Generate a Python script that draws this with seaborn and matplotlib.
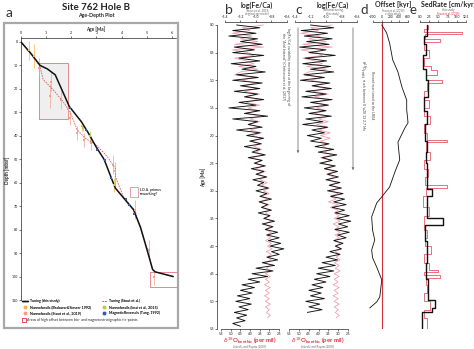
import numpy as np
import pandas as pd
import matplotlib
matplotlib.use("Agg")
import matplotlib.pyplot as plt
import seaborn as sns
from matplotlib.patches import Rectangle, FancyArrowPatch
from matplotlib.lines import Line2D

# ---------------- data ----------------
# Panel a: age-depth model
TUNE_AGE = [0.0, 0.40, 0.76, 1.05, 1.36, 1.92, 2.40, 2.67, 3.00, 3.30, 3.70, 3.75, 4.47, 4.75, 5.03, 5.23, 5.33, 6.05]
TUNE_DEPTH = [0.0, 5.0, 10.0, 11.5, 14.0, 27.5, 34.0, 38.7, 45.0, 50.0, 61.0, 62.3, 71.5, 79.0, 89.4, 97.0, 98.0, 100.0]
STOUT_AGE = [0.0, 0.40, 0.76, 0.88, 1.28, 1.68, 1.96, 2.23, 2.55, 3.00, 3.44, 3.75, 3.75, 4.07, 4.55, 4.63, 5.03, 5.23, 5.33, 6.05]
STOUT_DEPTH = [0.0, 5.0, 10.6, 16.0, 20.4, 25.5, 30.0, 37.4, 41.0, 44.0, 49.0, 54.0, 57.4, 66.0, 72.3, 76.0, 88.5, 97.0, 98.0, 100.0]

BRAL_AGE = [0.30, 0.50, 2.43, 3.70]
BRAL_DEPTH = [3.5, 6.0, 36.0, 61.0]
BRAL_ERR = [4.0, 5.0, 2.0, 3.0]
IMAI_AGE = [2.45, 2.75, 3.72]
IMAI_DEPTH = [36.5, 40.0, 60.5]
IMAI_ERR = [1.5, 2.0, 2.0]
NSTOUT_AGE = [0.73, 1.20, 1.15, 1.60, 1.88, 1.96, 2.23, 2.50, 2.80, 3.65, 3.75, 4.55, 5.07, 5.27]
NSTOUT_DEPTH = [11.0, 17.0, 23.0, 24.7, 28.5, 32.5, 38.7, 41.7, 43.0, 52.3, 55.0, 71.5, 88.5, 100.4]
NSTOUT_ERR = [4, 4, 5, 4, 4, 3, 3, 3, 3, 4, 4, 4, 4, 3]
MAG_AGE = [1.95, 2.58, 3.04, 3.33, 3.58, 4.18, 4.29, 4.49]
MAG_DEPTH = [28.0, 37.5, 46.0, 50.5, 58.0, 67.0, 69.5, 73.5]

AGE_TICKS = [0, 1, 2, 3, 4, 5, 6]
DEPTH_TICKS = [0, 10, 20, 30, 40, 50, 60, 70, 80, 90, 100, 110]

# Panels b, c: log(Fe/Ca) and LR04 d18O, sampled every 0.05 Ma
STEP = 0.05
FECA_B = [-1.25, -0.95, -1.30, -1.00, -1.35, -0.98, -1.20, -0.92, -1.28, -1.02,
          -1.30, -0.90, -1.22, -0.95, -1.32, -1.00, -1.18, -0.88, -1.25, -0.97,
          -1.30, -0.92, -1.20, -0.95, -1.28, -0.98, -1.15, -0.90, -1.22, -1.00,
          -1.35, -0.95, -1.15, -0.85, -1.30, -0.98, -1.10, -0.92, -1.25, -0.95,
          -1.12, -0.90, -1.08, -0.93, -1.15, -0.95, -1.05, -0.88, -1.10, -0.92,
          -1.02, -0.88, -1.06, -0.90, -1.00, -0.86, -1.04, -0.90, -0.98, -0.84,
          -1.00, -0.86, -0.95, -0.80, -0.96, -0.85, -0.93, -0.80, -0.97, -0.82,
          -0.90, -0.76, -0.92, -0.78, -0.88, -0.72, -0.86, -0.70, -0.84, -0.68,
          -0.82, -0.64, -0.80, -0.70, -0.86, -0.72, -0.92, -0.76, -1.00, -0.78,
          -1.05, -0.85, -1.10, -0.95, -1.18, -1.02, -1.20, -1.05, -1.24, -1.08,
          -1.26, -1.06, -1.22, -1.10, -1.28, -1.12, -1.25, -1.14, -1.30, -1.20]
FECA_C = [-1.20, -0.90, -1.32, -0.98, -1.28, -0.92, -1.25, -0.96, -1.34, -1.00,
          -1.22, -0.88, -1.27, -0.99, -1.30, -0.94, -1.20, -0.90, -1.28, -1.02,
          -1.33, -0.95, -1.18, -0.93, -1.26, -1.00, -1.31, -0.92, -1.20, -0.97,
          -1.28, -1.00, -1.22, -0.93, -1.26, -1.04, -1.30, -0.98, -1.18, -1.02,
          -1.24, -1.06, -1.20, -0.96, -1.14, -0.90, -1.10, -0.86, -1.05, -0.92,
          -1.08, -0.88, -1.02, -0.85, -0.98, -0.84, -1.00, -0.82, -0.96, -0.80,
          -0.98, -0.78, -0.94, -0.76, -0.90, -0.74, -0.92, -0.76, -0.88, -0.70,
          -0.86, -0.68, -0.84, -0.72, -0.88, -0.70, -0.85, -0.74, -0.90, -0.78,
          -0.88, -0.80, -0.95, -0.82, -1.00, -0.85, -1.05, -0.88, -1.10, -0.90,
          -1.12, -0.95, -1.15, -1.00, -1.18, -1.04, -1.22, -1.06, -1.20, -1.02,
          -1.26, -1.08, -1.22, -1.05, -1.24]
D18O = [3.3, 4.4, 4.0, 4.9, 3.9, 4.5, 3.6, 4.8, 3.3, 4.9,
        4.1, 3.8, 4.8, 4.2, 3.8, 4.6, 3.6, 4.5, 4.8, 3.8,
        4.4, 3.7, 4.3, 3.6, 4.3, 3.5, 4.2, 3.6, 4.2, 3.5,
        4.1, 3.6, 4.2, 3.5, 4.0, 3.5, 4.1, 3.5, 4.0, 3.4,
        3.9, 3.4, 3.9, 3.5, 3.8, 3.4, 3.7, 3.3, 3.9, 3.4,
        3.8, 3.3, 3.7, 3.2, 3.6, 3.2, 3.5, 3.1, 3.4, 3.0,
        3.3, 3.0, 3.4, 3.1, 3.5, 3.0, 3.4, 3.0, 3.2, 2.95,
        3.2, 2.9, 3.25, 2.95, 3.2, 2.9, 3.15, 2.95, 3.2, 2.9,
        3.1, 2.85, 3.15, 2.9, 3.1, 2.9, 3.2, 2.95, 3.15, 2.9,
        3.2, 2.95, 3.2, 3.0, 3.25, 2.95, 3.2, 3.0, 3.25, 3.0,
        3.2, 2.95, 3.2, 3.0, 3.15, 2.95, 3.1]
FECA_TICKS = [-1.4, -1.2, -1.0, -0.8, -0.6]
D18O_TICKS = [5.5, 5.0, 4.5, 4.0, 3.5, 3.0, 2.5]
AGE_B_TICKS = [0.0, 0.5, 1.0, 1.5, 2.0, 2.5, 3.0, 3.5, 4.0, 4.5, 5.0, 5.5]

# Panel d: offset Stout et al. (2019) vs this study
OFFSET_AGE = [0.0, 0.14, 0.33, 0.63, 0.85, 1.12, 1.36, 1.54, 1.68, 1.77, 1.86, 2.12, 2.44, 2.66,
              2.93, 3.11, 3.22, 3.47, 3.71, 3.89, 4.07, 4.21, 4.38, 4.61, 4.92, 5.01, 5.12]
OFFSET = [0, 110, 180, 250, 370, 460, 570, 570, 590, 600, 530, 370, 410, 300,
          180, 0, -115, -230, -210, -160, -230, -210, -115, 0, -45, -115, -275]
OFFSET_TICKS = [-200, 0, 200, 400, 600]

# Panel e: sedimentation rates (step profiles)
SR_EDGES = [0, 0.2, 0.35, 0.55, 0.8, 1.0, 1.3, 1.55, 1.8, 2.1, 2.3, 2.5, 2.97, 3.1, 3.5, 3.62,
            3.9, 4.3, 4.6, 4.98, 5.12, 5.2, 5.5]
SR_THIS = [1.9, 1.2, 1.6, 0.8, 1.5, 2.1, 1.0, 1.8, 1.3, 2.0, 1.6, 1.9, 3.3, 1.8, 6.2, 1.4,
           2.0, 1.5, 2.2, 4.1, 3.3, 0.5]
SRS_EDGES = [0, 0.08, 0.12, 0.16, 0.25, 0.3, 0.45, 0.6, 0.75, 0.82, 0.9, 1.0, 1.05, 1.2, 1.35,
             1.5, 1.65, 1.8, 1.95, 2.08, 2.12, 2.3, 2.45, 2.6, 2.75, 2.9, 2.95, 3.1, 3.3, 3.45,
             3.7, 3.85, 4.0, 4.15, 4.3, 4.43, 4.47, 4.53, 4.57, 4.7, 4.85, 5.0, 5.15, 5.3, 5.5]
SR_STOUT = [2.2, 1.0, 11.5, 1.4, 5.5, 1.2, 2.5, 1.0, 3.0, 4.5, 1.5, 6.0, 1.8, 1.0, 2.4,
            1.2, 2.8, 1.0, 2.0, 7.3, 1.5, 2.6, 1.0, 2.2, 1.3, 7.3, 1.6, 0.9, 2.5, 1.1,
            2.0, 1.3, 3.0, 1.0, 2.5, 5.0, 1.2, 5.5, 1.5, 2.0, 1.0, 2.6, 1.2, 1.8]
SR_TICKS = [0.0, 2.5, 5.0, 7.5, 10.0, 12.5]

# ---------------- style ----------------
sns.set_style("ticks")
plt.rcParams["font.family"] = ["Lato", "DejaVu Sans"]
plt.rcParams["axes.linewidth"] = 0.5

RED = "#d8303e"
PINK = "#f0a0b0"
BLACK = "#111111"
GRAY = "#666666"
TICK = 2.3

W, H = 474, 349
fig = plt.figure(figsize=(W / 100, H / 100), dpi=100)
fig.patch.set_facecolor("white")


def rect(l, t, r, b):
    return [l / W, 1 - b / H, (r - l) / W, (b - t) / H]


def ftext(x, y, s, **kw):
    kw.setdefault("ha", "center")
    kw.setdefault("va", "center")
    fig.text(x / W, 1 - y / H, s, **kw)


def tick_style(ax, size=TICK):
    ax.tick_params(axis="both", which="both", length=1.5, width=0.4, pad=0.5,
                   labelsize=size, colors=BLACK)


# ---------------- panel a ----------------
fig.add_artist(Rectangle((4 / W, 1 - 328 / H), 174 / W, 305 / H, transform=fig.transFigure,
                         fill=False, ec="#a8a8a8", lw=1.6))
axa = fig.add_axes(rect(21, 38, 176, 300))
axa.set_facecolor("none")
axa.add_patch(Rectangle((0.72, 9.0), 1.16, 23.7, fc="#efefef", ec="#e27480", lw=0.6, zorder=0))
axa.add_patch(Rectangle((5.11, 98.0), 1.1, 6.5, fc="white", ec="#e27480", lw=0.6, zorder=0,
                        clip_on=False))
axa.add_patch(Rectangle((4.35, 62.0), 0.28, 4.0, fc="white", ec="#e27480", lw=0.5, zorder=0))
axa.text(4.72, 64.0, "LO A. primus\nreworking?", fontsize=2.6, fontweight="bold",
         va="center", ha="left", color="#333333", linespacing=1.2)

cats = [
    (BRAL_AGE, BRAL_DEPTH, BRAL_ERR, "#eeb840"),
    (IMAI_AGE, IMAI_DEPTH, IMAI_ERR, "#b5d335"),
    (NSTOUT_AGE, NSTOUT_DEPTH, NSTOUT_ERR, "#f2a08a"),
]
for ag, dp, er, col in cats:
    axa.errorbar(ag, dp, yerr=er, fmt="none", ecolor=col, elinewidth=0.5, capsize=0, zorder=2)

sns.lineplot(x=STOUT_AGE, y=STOUT_DEPTH, sort=False, estimator=None, ax=axa,
             color="#e05565", lw=0.6, linestyle=(0, (2, 1.2)), zorder=3)
sns.lineplot(x=TUNE_AGE, y=TUNE_DEPTH, sort=False, estimator=None, ax=axa,
             color=BLACK, lw=1.1, zorder=4)
for ag, dp, er, col in cats:
    sns.scatterplot(x=ag, y=dp, color=col, s=3, marker="s", linewidth=0, ax=axa, zorder=5)
sns.scatterplot(x=MAG_AGE, y=MAG_DEPTH, color="#2b5cb8", s=3, marker="s", linewidth=0,
                ax=axa, zorder=6)

axa.set_xlim(0, 6.16)
axa.set_ylim(110, -1.7)
axa.xaxis.tick_top()
axa.set_xticks(AGE_TICKS)
axa.set_yticks(DEPTH_TICKS)
axa.set_xticklabels([str(v) for v in AGE_TICKS])
axa.set_yticklabels([str(v) for v in DEPTH_TICKS])
axa.spines["right"].set_visible(False)
axa.spines["bottom"].set_visible(False)
tick_style(axa, 2.6)
axa.set_xlabel("")
axa.set_ylabel("")

ftext(96, 7, "Site 762 Hole B", fontsize=7, fontweight="bold", color="#222222")
ftext(96, 16, "Age-Depth Plot", fontsize=3.8, fontweight="bold", color="#222222")
ftext(9, 13, "a", fontsize=10, color="#333333")
ftext(96, 29, "Age [Ma]", fontsize=3.3, fontweight="bold")
ftext(7, 170, "Depth [mbsf]", fontsize=3.3, fontweight="bold", rotation=90)

h1 = [Line2D([], [], color=BLACK, lw=1.0),
      Line2D([], [], color="#e05565", lw=0.6, linestyle=(0, (2, 1.2))),
      Line2D([], [], color="#eeb840", marker="s", ms=1.5, lw=0),
      Line2D([], [], color="#b5d335", marker="s", ms=1.5, lw=0),
      Line2D([], [], color="#f2a08a", marker="s", ms=1.5, lw=0),
      Line2D([], [], color="#2b5cb8", marker="s", ms=1.5, lw=0)]
l1 = ["Tuning (this study)", "Tuning (Stout et al.)",
      "Nannofossils (Bralower&Siesser 1992)", "Nannofossils (Imai et al., 2015)",
      "Nannofossils (Stout et al., 2019)", "MagneticReversals (Tang, 1992)"]
order = [0, 2, 4, 1, 3, 5]
leg1 = fig.legend([h1[i] for i in order], [l1[i] for i in order], ncol=2,
                  loc="upper left", bbox_to_anchor=(22 / W, 1 - 299 / H), frameon=False,
                  fontsize=2.6, handlelength=1.6, handletextpad=0.5, labelspacing=0.6,
                  columnspacing=3.0, borderpad=0, borderaxespad=0)
h2 = [Line2D([], [], color="#e0303a", marker="s", ms=2.2, lw=0, markerfacecolor="white",
             markeredgewidth=0.6)]
fig.legend(h2, ["Areas of high offset between bio- and magnetostratigraphic tie-points"],
           loc="upper left", bbox_to_anchor=(22 / W, 1 - 318 / H), frameon=False,
           fontsize=2.6, handlelength=1.0, handletextpad=0.4, borderpad=0, borderaxespad=0)
fig.add_artist(leg1)

# ---------------- panels b and c ----------------
ages_b = np.round(np.arange(len(FECA_B)) * STEP, 3)
ages_c = np.round(np.arange(len(FECA_C)) * STEP, 3)
ages_o = np.round(np.arange(len(D18O)) * STEP, 3)


def proxy_panel(l, r, feca_lim, d18_lim, feca, ages, show_left):
    ax = fig.add_axes(rect(l, 22, r, 329))
    ax.set_facecolor("none")
    sns.lineplot(x=D18O, y=ages_o, orient="y", estimator=None, ax=ax, color=PINK, lw=0.6)
    ax.set_xlim(*d18_lim)
    ax.set_ylim(5.5, -0.054)
    ax.set_xticks(D18O_TICKS)
    ax.set_xticklabels([f"{v:.1f}" for v in D18O_TICKS])
    ax.spines["bottom"].set_bounds(2.5, 5.5)
    ax.spines["top"].set_visible(False)
    ax.spines["right"].set_visible(False)
    ax.set_xlabel("")
    ax.set_ylabel("")
    if show_left:
        ax.set_yticks(AGE_B_TICKS)
        ax.set_yticklabels([f"{v:.1f}" for v in AGE_B_TICKS])
        ax.spines["left"].set_bounds(0, 5.5)
    else:
        ax.spines["left"].set_visible(False)
        ax.set_yticks([])
    tick_style(ax)
    axt = ax.twiny()
    sns.lineplot(x=feca, y=ages, orient="y", estimator=None, ax=axt, color=BLACK, lw=0.65)
    axt.set_xlim(*feca_lim)
    axt.set_ylim(5.5, -0.054)
    axt.set_xticks(FECA_TICKS)
    axt.set_xticklabels([f"{v:.1f}".replace("-", "\u2212") for v in FECA_TICKS])
    axt.spines["top"].set_bounds(-1.4, -0.6)
    for s in ["left", "right", "bottom"]:
        axt.spines[s].set_visible(False)
    axt.set_xlabel("")
    axt.set_ylabel("")
    tick_style(axt)
    return ax, axt


axb, axbt = proxy_panel(217, 289, (-1.503, -0.574), (5.707, 1.983), FECA_B, ages_b, True)
axc, axct = proxy_panel(289, 360, (-1.477, -0.561), (5.5, 1.89), FECA_C, ages_c, False)

ftext(203, 177, "Age [Ma]", fontsize=3.3, fontweight="bold", rotation=90)
for cx, sub1, sub2, letter, lx in [(257, "(Stout et al., 2019;", "original age model)", "b", 229),
                                   (333, "(minimal tuning,", "this study)", "c", 299)]:
    ftext(cx, 5, "log(Fe/Ca)", fontsize=5, fontweight="bold")
    ftext(cx, 10.3, sub1, fontsize=2.1, color=GRAY)
    ftext(cx, 13.5, sub2, fontsize=2.1, color=GRAY)
    ftext(lx, 9.5, letter, fontsize=10, color="#333333")
for cx in [250, 318]:
    ftext(cx, 340.5, r"$\delta^{18}$O$_{\mathregular{benthic}}$ (per mil)", fontsize=4.3,
          fontweight="bold", color=RED)
    ftext(cx, 346.5, "Lisiecki and Raymo (2005)", fontsize=2.1, color=GRAY)

ftext(286, 28, "log(Fe/Ca) variability increases at the beginning of\n"
               "the \"Arid Interval\" (Christensen et al. (2017)",
      fontsize=2.5, rotation=-90, va="top", color="#444444", linespacing=1.3)
fig.add_artist(FancyArrowPatch((298 / W, 1 - 25 / H), (298 / W, 1 - 156 / H),
                               transform=fig.transFigure, arrowstyle="-|>", mutation_scale=3,
                               color="#777777", lw=0.6))
ftext(366, 60, "Record was tuned to the LR04\n"
               r"$\delta^{18}$O$_{\mathregular{benthic}}$ stack between 0 \u2013 2.7 Ma",
      fontsize=2.6, rotation=-90, va="top", color="#444444", linespacing=1.3)
fig.add_artist(FancyArrowPatch((353 / W, 1 - 25 / H), (353 / W, 1 - 173 / H),
                               transform=fig.transFigure, arrowstyle="-|>", mutation_scale=3,
                               color="#777777", lw=0.6))

# ---------------- panel d ----------------
axd = fig.add_axes(rect(368, 22, 412, 329))
axd.set_facecolor("none")
axd.axvline(0, color=RED, lw=0.8)
sns.lineplot(x=OFFSET, y=OFFSET_AGE, orient="y", estimator=None, ax=axd, color=BLACK, lw=0.6)
axd.set_xlim(-314, 691)
axd.set_ylim(5.5, -0.054)
axd.xaxis.tick_top()
axd.set_xticks(OFFSET_TICKS)
axd.set_xticklabels([str(v).replace("-", "\u2212") for v in OFFSET_TICKS])
axd.spines["top"].set_bounds(-200, 600)
for s in ["left", "right", "bottom"]:
    axd.spines[s].set_visible(False)
axd.set_yticks([])
axd.set_xlabel("")
axd.set_ylabel("")
tick_style(axd)
ftext(393, 5, "Offset [kyr]", fontsize=5, fontweight="bold")
ftext(393, 10.3, "Stout et al. (2019)", fontsize=2.1, color=GRAY)
ftext(393, 13.5, "vs this study", fontsize=2.1, color=GRAY)
ftext(364, 10, "d", fontsize=9.5, color="#333333")

# ---------------- panel e ----------------
axe = fig.add_axes(rect(416, 22, 470, 329))
axe.set_facecolor("none")


def step_xy(edges, vals):
    e = np.asarray(edges, dtype=float)
    v = np.asarray(vals, dtype=float)
    ys = np.column_stack([e[:-1], e[1:]]).ravel()
    xs = np.repeat(v, 2)
    return xs, ys


xs_s, ys_s = step_xy(SRS_EDGES, SR_STOUT)
xs_t, ys_t = step_xy(SR_EDGES, SR_THIS)
sns.lineplot(x=xs_s, y=ys_s, sort=False, estimator=None, ax=axe, color="#e04a5a", lw=0.55)
sns.lineplot(x=xs_t, y=ys_t, sort=False, estimator=None, ax=axe, color=BLACK, lw=1.0)
axe.set_xlim(-1.087, 13.59)
axe.set_ylim(5.5, -0.054)
axe.xaxis.tick_top()
axe.set_xticks(SR_TICKS)
axe.set_xticklabels([f"{v:.1f}" for v in SR_TICKS])
axe.spines["top"].set_bounds(0, 12.5)
for s in ["left", "right", "bottom"]:
    axe.spines[s].set_visible(False)
axe.set_yticks([])
axe.set_xlabel("")
axe.set_ylabel("")
tick_style(axe)
ftext(448, 5, "SedRate [cm/kyr]", fontsize=5, fontweight="bold")
ftext(448, 10.3, "this study", fontsize=2.1, color=GRAY)
ftext(448, 13.5, "Stout et al. (2019)", fontsize=2.1, color=RED)
ftext(413.5, 10, "e", fontsize=9.5, color="#333333")

fig.savefig("out.png", dpi=100, facecolor="white")
